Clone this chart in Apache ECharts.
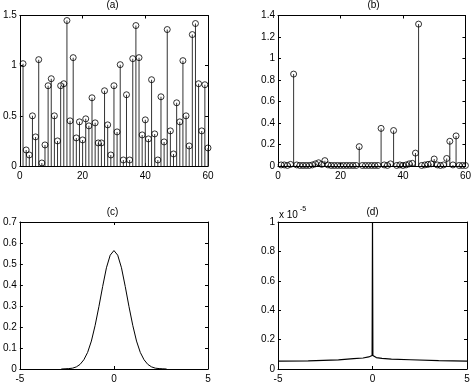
<!DOCTYPE html>
<html>
<head>
<meta charset="utf-8">
<script src="https://cdn.jsdelivr.net/npm/echarts@6/dist/echarts.min.js"></script>
<style>
html,body{margin:0;padding:0;background:#fff;}
#c{width:474px;height:384px;}
</style>
</head>
<body>
<div id="c"></div>
<script>
// Panel (a): stem values at n = 1..60
const aValues = [1.02,0.16,0.11,0.50,0.29,1.06,0.03,0.21,0.80,0.87,
  0.50,0.25,0.80,0.82,1.45,0.45,1.08,0.28,0.44,0.26,
  0.47,0.40,0.68,0.43,0.23,0.23,0.75,0.41,0.11,0.80,
  0.34,1.01,0.06,0.71,0.06,1.07,1.40,1.08,0.31,0.46,
  0.27,0.86,0.32,0.06,0.69,0.24,1.36,0.35,0.12,0.63,
  0.44,1.05,0.50,0.20,1.31,1.42,0.82,0.35,0.81,0.18];
// Panel (b): stem values at n = 1..60
const bValues = [0.01,0.01,0.005,0.015,0.855,0.01,0.005,0.005,0.005,0.005,
  0.01,0.02,0.03,0.015,0.05,0.01,0.005,0.005,0.005,0.005,
  0.005,0.005,0.005,0.005,0.005,0.18,0.005,0.005,0.005,0.005,
  0.005,0.005,0.35,0.01,0.005,0.02,0.33,0.005,0.01,0.005,
  0.01,0.02,0.025,0.12,1.32,0.005,0.01,0.015,0.02,0.065,
  0.01,0.005,0.01,0.07,0.23,0.01,0.28,0.005,0.005,0.005];
// Panel (c): curve
const cX = [-2.8,-2.6,-2.4,-2.2,-2.0,-1.8,-1.6,-1.4,-1.2,-1.0,-0.8,-0.6,-0.4,-0.2,0,
  0.2,0.4,0.6,0.8,1.0,1.2,1.4,1.6,1.8,2.0,2.2,2.4,2.6,2.8];
const cY = [0.000,0.001,0.002,0.004,0.010,0.022,0.044,0.079,0.133,0.208,0.297,0.393,0.482,0.542,0.564,
  0.542,0.482,0.393,0.297,0.208,0.133,0.079,0.044,0.022,0.010,0.004,0.002,0.001,0.000];
// Panel (d): curve (units of 1e-5)
const dX = [-5,-3.4,-3.3,-1.8,-1.7,-1.0,-0.5,-0.2,-0.02,0,0.02,0.2,0.5,1.0,2.0,3.5,5];
const dY = [0.053,0.055,0.060,0.062,0.067,0.070,0.075,0.082,0.092,1.0,0.092,0.078,0.072,0.067,0.063,0.057,0.053];
// tick settings
const aXTicks = {min:0,max:60,interval:20};
const aYTicks = {min:0,max:1.5,interval:0.5};
const bYTicks = {min:0,max:1.4,interval:0.2};
const cXTicks = {min:-5,max:5,interval:5};
const cYTicks = {min:0,max:0.7,interval:0.1};
const dYTicks = {min:0,max:1,interval:0.2};
const titles = ['(a)','(b)','(c)','(d)'];

const FONT = 'Liberation Sans, Arial, sans-serif';
const grids = [
  {left:17, top:15.5, width:191, height:150.5},
  {left:278, top:15.5, width:191, height:150.5},
  {left:17, top:222, width:191, height:150.5},
  {left:278, top:222, width:189, height:150.5}
];
const axisBase = {
  axisLine:{onZero:false, lineStyle:{color:'#000',width:1}},
  axisTick:{inside:true,length:3,lineStyle:{color:'#000'}},
  splitLine:{show:false}
};
function xAx(g, t, mirror){
  return Object.assign({type:'value', gridIndex:g, position: mirror?'top':'bottom'}, t, axisBase,
    {axisLabel:{show:!mirror, color:'#000', fontFamily:FONT, fontSize:10, margin:5}});
}
function yAx(g, t, mirror){
  return Object.assign({type:'value', gridIndex:g, position: mirror?'right':'left'}, t, axisBase,
    {axisLabel:{show:!mirror, color:'#000', fontFamily:FONT, fontSize:10, margin:3}});
}
const xAxis = [xAx(0,aXTicks), xAx(1,aXTicks), xAx(2,cXTicks), xAx(3,cXTicks),
  xAx(0,aXTicks,true), xAx(1,aXTicks,true), xAx(2,cXTicks,true), xAx(3,cXTicks,true)];
const yAxis = [yAx(0,aYTicks), yAx(1,bYTicks), yAx(2,cYTicks), yAx(3,dYTicks),
  yAx(0,aYTicks,true), yAx(1,bYTicks,true), yAx(2,cYTicks,true), yAx(3,dYTicks,true)];

function stems(vals, idx){
  const d = vals.map((v,i)=>[i+1, v]);
  return [
    {type:'bar', xAxisIndex:idx, yAxisIndex:idx, data:d, barWidth:1, itemStyle:{color:'#333'}, silent:true, animation:false},
    {type:'scatter', xAxisIndex:idx, yAxisIndex:idx, data:d, symbol:'circle', symbolSize:6,
     itemStyle:{color:'rgba(255,255,255,0)', borderColor:'#000', borderWidth:1}, animation:false, z:3}
  ];
}
const series = [].concat(stems(aValues,0), stems(bValues,1), [
  {type:'line', xAxisIndex:2, yAxisIndex:2, data:cX.map((x,i)=>[x,cY[i]]), showSymbol:false,
   lineStyle:{color:'#000',width:1}, animation:false},
  {type:'line', xAxisIndex:3, yAxisIndex:3, data:dX.map((x,i)=>[x,dY[i]]), showSymbol:false,
   lineStyle:{color:'#000',width:1.2}, animation:false}
]);

const titleOpts = grids.map((g,i)=>({
  text:titles[i], left:g.left + g.width/2, top: g.top - 15, textAlign:'center',
  textStyle:{fontFamily:FONT, fontSize:10, fontWeight:'normal', color:'#000'}, padding:0
}));

const chart = echarts.init(document.getElementById('c'), null, {renderer:'canvas'});
chart.setOption({
  animation:false,
  backgroundColor:'#fff',
  title:titleOpts,
  grid:grids,
  xAxis:xAxis,
  yAxis:yAxis,
  series:series,
  graphic:[
    {type:'text', left:279, top:210, style:{text:'x 10', font:'10px Liberation Sans, Arial, sans-serif', fill:'#000'}},
    {type:'text', left:300, top:206, style:{text:'-5', font:'7px Liberation Sans, Arial, sans-serif', fill:'#000'}}
  ]
});
</script>
</body>
</html>
